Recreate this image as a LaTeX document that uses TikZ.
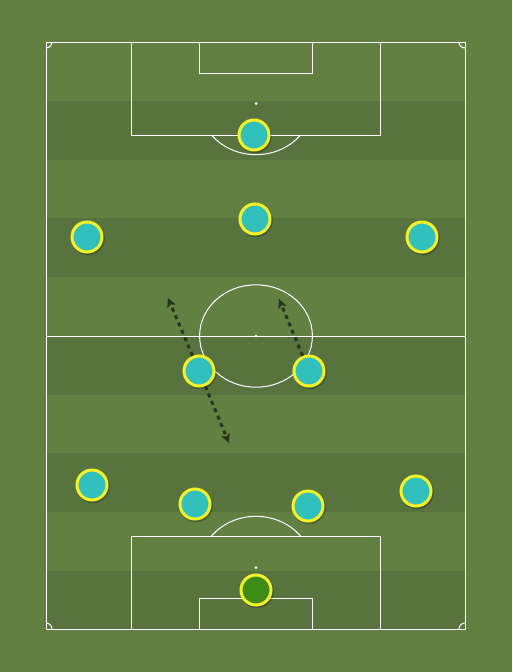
\documentclass[tikz,border=0pt]{standalone}
\usetikzlibrary{arrows.meta}
\definecolor{grassL}{RGB}{99,128,67}
\definecolor{grassD}{RGB}{88,115,62}
\definecolor{teal}{RGB}{50,192,188}
\definecolor{ring}{RGB}{243,242,40}
\definecolor{keeper}{RGB}{60,140,22}
\definecolor{runc}{RGB}{40,55,28}
\tikzset{
  pline/.style={draw=white, line width=1pt},
  player/.style={circle, draw=ring, line width=3pt, fill=teal, minimum size=30pt, inner sep=0pt},
  gk/.style={player, fill=keeper},
  shadowc/.style={fill=black, opacity=0.22},
  run/.style={draw=runc, line width=3pt, dash pattern=on 4pt off 4pt, -{Stealth[length=9pt,width=9pt,inset=2pt]}}
}
\begin{document}
\begin{tikzpicture}[x=1pt,y=-1pt]
\fill[grassL] (0,0) rectangle (512,672);
\useasboundingbox (0,0) rectangle (512,672);
% stripes
\foreach \y in {101,218.4,335.8,453.2,570.6}{\fill[grassD] (46,\y) rectangle (465,\y+58.7);}
% pitch lines
\draw[pline] (46,42) rectangle (465,629);
\draw[pline] (46,336) -- (465,336);
\draw[pline] (256,336) ellipse [x radius=56.4pt, y radius=51.2pt];
\fill[white] (256,336) circle (1.5pt);
% top box
\draw[pline] (131.5,42) rectangle (380.5,135);
\draw[pline] (199.5,42) rectangle (312.5,73);
\fill[white] (256,103.5) circle (1.5pt);
\begin{scope}
\clip (0,135) rectangle (512,200);
\draw[pline] (256,103.5) ellipse [x radius=56.4pt, y radius=51.2pt];
\end{scope}
% bottom box
\draw[pline] (131.5,536) rectangle (380.5,629);
\draw[pline] (199.5,598) rectangle (312.5,629);
\fill[white] (256,567.5) circle (1.5pt);
\begin{scope}
\clip (0,470) rectangle (512,536);
\draw[pline] (256,567.5) ellipse [x radius=56.4pt, y radius=51.2pt];
\end{scope}
% corners
\begin{scope}
\clip (46,42) rectangle (465,629);
\foreach \cx/\cy in {46/42,465/42,46/629,465/629}{\draw[pline] (\cx,\cy) circle (6pt);}
\end{scope}
% shadows
\foreach \px/\py in {254/135,255/219,87/237,422/237,199/371,309/371,92/485,195/504,308/506,416/491,256/590}{
  \fill[shadowc] (\px+1,\py+1.5) circle (16.8pt);}
% arrow end points
\coordinate (a1) at (168,298);
\coordinate (a2) at (229,443);
\coordinate (a3) at (279,299);
% players
\node[player] (p1) at (254,135) {};
\node[player] (p2) at (255,219) {};
\node[player] (p3) at (87,237) {};
\node[player] (p4) at (422,237) {};
\node[player] (p6) at (199,371) {};
\node[player] (p7) at (309,371) {};
\node[player] (p8) at (92,485) {};
\node[player] (p9) at (195,504) {};
\node[player] (p10) at (308,506) {};
\node[player] (p11) at (416,491) {};
\node[gk] (gk) at (256,590) {};
% runs
\draw[run] (p6) -- (a1);
\draw[run] (p6) -- (a2);
\draw[run] (p7) -- (a3);
\end{tikzpicture}
\end{document}
